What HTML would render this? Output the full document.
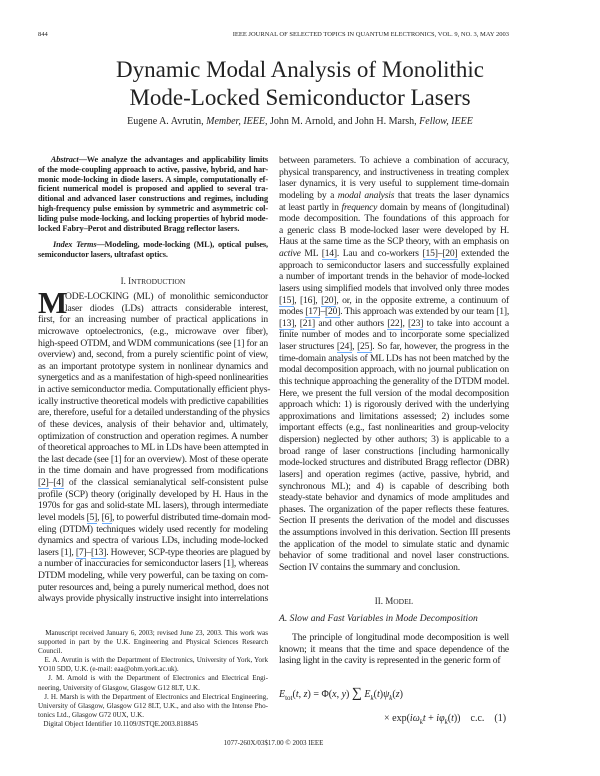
<!DOCTYPE html>
<html><head><meta charset="utf-8"><style>
body{margin:0;width:600px;height:776px;background:#fff;position:relative;overflow:hidden;font-family:"Liberation Serif",serif;color:#222}
.a{position:absolute;white-space:nowrap}
.col{position:absolute;font-size:9.6px;letter-spacing:-0.2px;line-height:11.62px}
.col div{text-align:justify;text-align-last:justify;white-space:nowrap;overflow:visible}
.col div.l{text-align-last:left}
.ab{position:absolute;left:38px;width:230px;font-size:8.3px;font-weight:bold;line-height:9.8px;letter-spacing:-0.1px}
.ab div{text-align:justify;text-align-last:justify;white-space:nowrap}
.fn{position:absolute;left:38px;width:230px;font-size:7.1px;line-height:9.1px}
.fn div{text-align:justify;text-align-last:justify;white-space:nowrap}
.fn div.l{text-align-last:left}
u{text-decoration:none;border-bottom:1px solid #6af}
</style></head><body>
<div class="a" style="left:38px;top:31px;font-size:6.5px">844</div>
<div class="a" style="right:91px;top:31px;font-size:6.5px">IEEE JOURNAL OF SELECTED TOPICS IN QUANTUM ELECTRONICS, VOL. 9, NO. 3, MAY 2003</div>
<div class="a" style="left:0;width:600px;text-align:center;top:56px;font-size:23px;line-height:28px">Dynamic Modal Analysis of Monolithic<br>Mode-Locked Semiconductor Lasers</div>
<div class="a" style="left:0;width:600px;text-align:center;top:116px;font-size:10px">Eugene A. Avrutin, <i>Member, IEEE</i>, John M. Arnold, and John H. Marsh, <i>Fellow, IEEE</i></div>

<div class="ab" style="top:155px">
<div>&nbsp;&nbsp;&nbsp;&nbsp;<i>Abstract</i>—We analyze the advantages and applicability limits</div>
<div>of the mode-coupling approach to active, passive, hybrid, and har-</div>
<div>monic mode-locking in diode lasers. A simple, computationally ef-</div>
<div>ficient numerical model is proposed and applied to several tra-</div>
<div>ditional and advanced laser constructions and regimes, including</div>
<div>high-frequency pulse emission by symmetric and asymmetric col-</div>
<div>liding pulse mode-locking, and locking properties of hybrid mode-</div>
<div style="text-align-last:left">locked Fabry–Perot and distributed Bragg reflector lasers.</div>
</div>
<div class="ab" style="top:240px">
<div>&nbsp;&nbsp;&nbsp;&nbsp;<i>Index Terms</i>—Modeling, mode-locking (ML), optical pulses,</div>
<div style="text-align-last:left">semiconductor lasers, ultrafast optics.</div>
</div>
<div class="a" style="left:38px;width:230px;text-align:center;top:276px;font-size:9px">I. I<span style="font-size:7.5px">NTRODUCTION</span></div>
<div class="a" style="left:38px;top:287px;font-size:31px;font-weight:bold;line-height:31px">M</div>

<div class="col" style="left:38px;width:230px;top:291px">
<div style="margin-left:27px">ODE-LOCKING (ML) of monolithic semiconductor</div>
<div style="margin-left:27px">laser diodes (LDs) attracts considerable interest,</div>
<div>first, for an increasing number of practical applications in</div>
<div>microwave optoelectronics, (e.g., microwave over fiber),</div>
<div>high-speed OTDM, and WDM communications (see [1] for an</div>
<div>overview) and, second, from a purely scientific point of view,</div>
<div>as an important prototype system in nonlinear dynamics and</div>
<div>synergetics and as a manifestation of high-speed nonlinearities</div>
<div>in active semiconductor media. Computationally efficient phys-</div>
<div>ically instructive theoretical models with predictive capabilities</div>
<div>are, therefore, useful for a detailed understanding of the physics</div>
<div>of these devices, analysis of their behavior and, ultimately,</div>
<div>optimization of construction and operation regimes. A number</div>
<div>of theoretical approaches to ML in LDs have been attempted in</div>
<div>the last decade (see [1] for an overview). Most of these operate</div>
<div>in the time domain and have progressed from modifications</div>
<div><u>[2]</u>–<u>[4]</u> of the classical semianalytical self-consistent pulse</div>
<div>profile (SCP) theory (originally developed by H. Haus in the</div>
<div>1970s for gas and solid-state ML lasers), through intermediate</div>
<div>level models <u>[5]</u>, <u>[6]</u>, to powerful distributed time-domain mod-</div>
<div>eling (DTDM) techniques widely used recently for modeling</div>
<div>dynamics and spectra of various LDs, including mode-locked</div>
<div>lasers [1], <u>[7]</u>–<u>[13]</u>. However, SCP-type theories are plagued by</div>
<div>a number of inaccuracies for semiconductor lasers [1], whereas</div>
<div>DTDM modeling, while very powerful, can be taxing on com-</div>
<div>puter resources and, being a purely numerical method, does not</div>
<div>always provide physically instructive insight into interrelations</div>
</div>

<div class="col" style="left:279px;width:230px;top:155px">
<div>between parameters. To achieve a combination of accuracy,</div>
<div>physical transparency, and instructiveness in treating complex</div>
<div>laser dynamics, it is very useful to supplement time-domain</div>
<div>modeling by a <i>modal analysis</i> that treats the laser dynamics</div>
<div>at least partly in <i>frequency</i> domain by means of (longitudinal)</div>
<div>mode decomposition. The foundations of this approach for</div>
<div>a generic class B mode-locked laser were developed by H.</div>
<div>Haus at the same time as the SCP theory, with an emphasis on</div>
<div><i>active</i> ML <u>[14]</u>. Lau and co-workers <u>[15]</u>–<u>[20]</u> extended the</div>
<div>approach to semiconductor lasers and successfully explained</div>
<div>a number of important trends in the behavior of mode-locked</div>
<div>lasers using simplified models that involved only three modes</div>
<div><u>[15]</u>, [16], <u>[20]</u>, or, in the opposite extreme, a continuum of</div>
<div>modes <u>[17]</u>–<u>[20]</u>. This approach was extended by our team [1],</div>
<div><u>[13]</u>, <u>[21]</u> and other authors <u>[22]</u>, <u>[23]</u> to take into account a</div>
<div>finite number of modes and to incorporate some specialized</div>
<div>laser structures <u>[24]</u>, <u>[25]</u>. So far, however, the progress in the</div>
<div>time-domain analysis of ML LDs has not been matched by the</div>
<div>modal decomposition approach, with no journal publication on</div>
<div>this technique approaching the generality of the DTDM model.</div>
<div>Here, we present the full version of the modal decomposition</div>
<div>approach which: 1) is rigorously derived with the underlying</div>
<div>approximations and limitations assessed; 2) includes some</div>
<div>important effects (e.g., fast nonlinearities and group-velocity</div>
<div>dispersion) neglected by other authors; 3) is applicable to a</div>
<div>broad range of laser constructions [including harmonically</div>
<div>mode-locked structures and distributed Bragg reflector (DBR)</div>
<div>lasers] and operation regimes (active, passive, hybrid, and</div>
<div>synchronous ML); and 4) is capable of describing both</div>
<div>steady-state behavior and dynamics of mode amplitudes and</div>
<div>phases. The organization of the paper reflects these features.</div>
<div>Section II presents the derivation of the model and discusses</div>
<div>the assumptions involved in this derivation. Section III presents</div>
<div>the application of the model to simulate static and dynamic</div>
<div>behavior of some traditional and novel laser constructions.</div>
<div class="l">Section IV contains the summary and conclusion.</div>
</div>

<div class="a" style="left:279px;width:230px;text-align:center;top:596px;font-size:9px">II. M<span style="font-size:7.5px">ODEL</span></div>
<div class="a" style="left:279px;top:613px;font-size:9.6px"><i>A. Slow and Fast Variables in Mode Decomposition</i></div>
<div class="col" style="left:279px;width:230px;top:632px">
<div>&nbsp;&nbsp;&nbsp;&nbsp;The principle of longitudinal mode decomposition is well</div>
<div>known; it means that the time and space dependence of the</div>
<div class="l">lasing light in the cavity is represented in the generic form of</div>
</div>
<div class="a" style="left:279px;top:686px;font-size:10px"><i>E</i><sub style="font-size:7px">tot</sub>(<i>t</i>, <i>z</i>) = Φ(<i>x</i>, <i>y</i>) <span style="font-size:14px">∑</span> <i>E<sub style="font-size:7px">k</sub></i>(<i>t</i>)<i>ψ<sub style="font-size:7px">k</sub></i>(<i>z</i>)</div>
<div class="a" style="left:384px;top:713px;font-size:10px">× exp(<i>iω<sub style="font-size:7px">k</sub>t</i> + <i>iφ<sub style="font-size:7px">k</sub></i>(<i>t</i>)) &nbsp;&nbsp; c.c. &nbsp;&nbsp;&nbsp;(1)</div>

<div class="fn" style="top:629px">
<div>&nbsp;&nbsp;&nbsp;Manuscript received January 6, 2003; revised June 23, 2003. This work was</div>
<div>supported in part by the U.K. Engineering and Physical Sciences Research</div>
<div class="l">Council.</div>
<div>&nbsp;&nbsp;&nbsp;E. A. Avrutin is with the Department of Electronics, University of York, York</div>
<div class="l">YO10 5DD, U.K. (e-mail: eaa@ohm.york.ac.uk).</div>
<div>&nbsp;&nbsp;&nbsp;J. M. Arnold is with the Department of Electronics and Electrical Engi-</div>
<div class="l">neering, University of Glasgow, Glasgow G12 8LT, U.K.</div>
<div>&nbsp;&nbsp;&nbsp;J. H. Marsh is with the Department of Electronics and Electrical Engineering,</div>
<div>University of Glasgow, Glasgow G12 8LT, U.K., and also with the Intense Pho-</div>
<div class="l">tonics Ltd., Glasgow G72 0UX, U.K.</div>
<div class="l">&nbsp;&nbsp;&nbsp;Digital Object Identifier 10.1109/JSTQE.2003.818845</div>
</div>
<div class="a" style="left:38px;width:471px;text-align:center;top:739px;font-size:7px">1077-260X/03$17.00 © 2003 IEEE</div>
</body></html>
